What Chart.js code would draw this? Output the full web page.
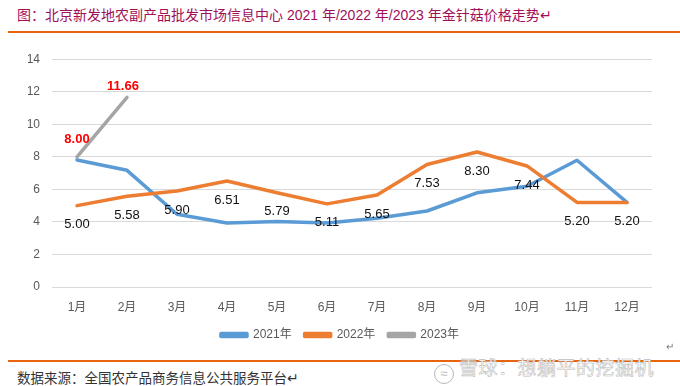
<!DOCTYPE html>
<html>
<head>
<meta charset="utf-8">
<script src="https://cdn.jsdelivr.net/npm/chart.js@4/dist/chart.umd.min.js"></script>
<style>
    body { margin: 0; background: #fff; }
    #page { position: relative; width: 680px; height: 386px; overflow: hidden; font-family: "Liberation Sans", "Noto Sans CJK SC", sans-serif; }
    #title { position: absolute; left: 17px; top: 4px; font-size: 14px; color: #a0105a; white-space: nowrap; }
    .rule { position: absolute; left: 8px; right: 0; height: 2px; background: #e8650f; }
    #chart-box { position: absolute; left: 0; top: 40px; width: 680px; height: 311px; }
    #source { position: absolute; left: 17px; top: 367px; font-size: 13.5px; color: #333; white-space: nowrap; }
    #mark { position: absolute; left: 434px; top: 353px; font-size: 19px; color: #fff; -webkit-text-stroke: 0.6px #bdbdbd; white-space: nowrap; letter-spacing: 0.5px; }
    #mark .logo { display: inline-block; box-sizing: border-box; width: 20px; height: 20px; border: 1.5px solid #b8b8b8; border-radius: 50%; vertical-align: -3px; margin-right: 5px; font-size: 13px; line-height: 17px; text-align: center; color: #b8b8b8; -webkit-text-stroke: 0; background: #fff; }
    #ret { position: absolute; left: 666px; top: 341px; font-size: 10px; color: #777; }
</style>
</head>
<body>
<div id="page">
    <div id="title">图：北京新发地农副产品批发市场信息中心 2021 年/2022 年/2023 年金针菇价格走势↵</div>
    <div class="rule" style="top: 31px;"></div>
    <div id="chart-box"><canvas id="priceChart"></canvas></div>
    <div class="rule" style="top: 360px;"></div>
    <div id="mark"><span class="logo">≈</span>雪球：想躺平的挖掘机</div>
    <div id="ret">↵</div>
    <div id="source">数据来源：全国农产品商务信息公共服务平台↵</div>
</div>
<script>
    // Data
    const months = ['1月', '2月', '3月', '4月', '5月', '6月', '7月', '8月', '9月', '10月', '11月', '12月'];
    const price2021 = [7.81, 7.17, 4.47, 3.93, 4.03, 3.93, 4.22, 4.67, 5.79, 6.19, 7.79, 5.20];
    const price2022 = [5.00, 5.58, 5.90, 6.51, 5.79, 5.11, 5.65, 7.53, 8.30, 7.44, 5.20, 5.20];
    const price2023 = [8.00, 11.66];
    const yTicks = [0, 2, 4, 6, 8, 10, 12, 14];

    // value labels: 2022 below the line in black, 2023 above in red
    const valueLabels = {
        id: 'valueLabels',
        afterDatasetsDraw(chart) {
            const ctx = chart.ctx;
            ctx.save();
            ctx.textAlign = 'center';
            ctx.textBaseline = 'middle';

            const meta22 = chart.getDatasetMeta(1);
            ctx.font = '13px "Liberation Sans", Arial, sans-serif';
            ctx.fillStyle = '#111';
            meta22.data.forEach((pt, i) => {
                ctx.fillText(price2022[i].toFixed(2), pt.x, pt.y + 19);
            });

            const meta23 = chart.getDatasetMeta(2);
            ctx.font = 'bold 13px "Liberation Sans", Arial, sans-serif';
            ctx.fillStyle = '#ff0000';
            meta23.data.forEach((pt, i) => {
                ctx.fillText(price2023[i].toFixed(2), pt.x - (i === 1 ? 4 : 0), pt.y - (i === 1 ? 11 : 17));
            });
            ctx.restore();
        }
    };

    const ctx = document.getElementById('priceChart').getContext('2d');
    new Chart(ctx, {
        type: 'line',
        data: {
            labels: months,
            datasets: [
                { label: '2021年', data: price2021, borderColor: '#5b9bd5', backgroundColor: '#5b9bd5', order: 3 },
                { label: '2022年', data: price2022, borderColor: '#ed7d31', backgroundColor: '#ed7d31', order: 2 },
                { label: '2023年', data: price2023, borderColor: '#a5a5a5', backgroundColor: '#a5a5a5', order: 1 }
            ]
        },
        options: {
            responsive: true,
            maintainAspectRatio: false,
            animation: false,
            elements: {
                line: { borderWidth: 3.5, tension: 0, borderCapStyle: 'round', borderJoinStyle: 'round' },
                point: { radius: 0, hoverRadius: 0 }
            },
            layout: { padding: { top: 14, right: 28, bottom: 0, left: 28 } },
            plugins: {
                legend: {
                    position: 'bottom',
                    labels: {
                        boxWidth: 26,
                        boxHeight: 3,
                        padding: 13,
                        color: '#595959',
                        sort: (a, b) => a.datasetIndex - b.datasetIndex,
                        font: { size: 12, family: '"Liberation Sans", "Noto Sans CJK SC", sans-serif' }
                    }
                },
                tooltip: { enabled: false }
            },
            scales: {
                x: {
                    offset: true,
                    grid: { display: false },
                    border: { display: false },
                    ticks: {
                        color: '#595959',
                        padding: 5,
                        maxRotation: 0,
                        font: { size: 12, family: '"Liberation Sans", "Noto Sans CJK SC", sans-serif' }
                    },
                    afterFit: (scale) => { scale.height = 29; }
                },
                y: {
                    min: 0,
                    max: 14,
                    afterBuildTicks: (scale) => { scale.ticks = yTicks.map(v => ({ value: v })); },
                    grid: { color: '#d9d9d9', lineWidth: 1, drawTicks: false },
                    border: { display: false },
                    ticks: {
                        color: '#595959',
                        padding: 12,
                        font: { size: 12, family: '"Liberation Sans", sans-serif' }
                    },
                    afterFit: (scale) => { scale.width = 24; }
                }
            }
        },
        plugins: [valueLabels]
    });
</script>
</body>
</html>
